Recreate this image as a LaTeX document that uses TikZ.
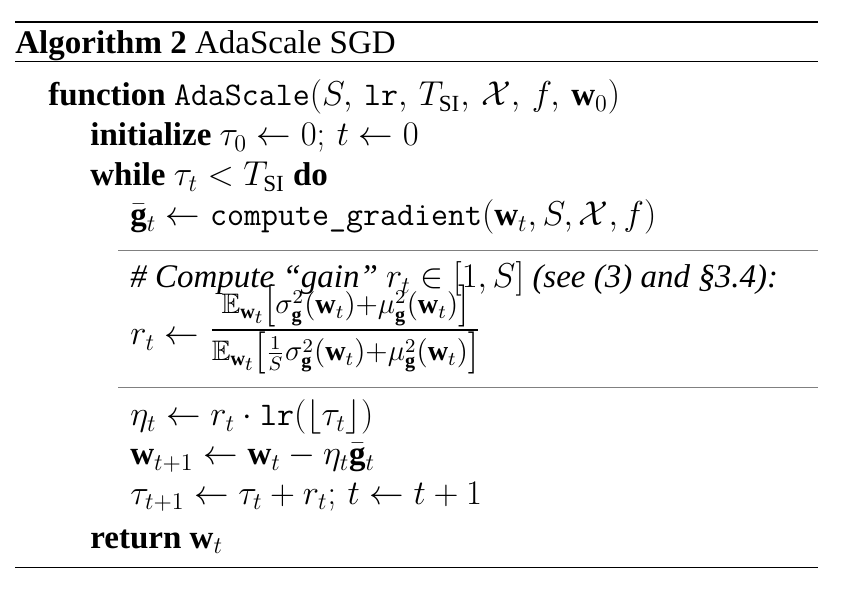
\documentclass[tikz,border=0pt]{standalone}
\usepackage{amsmath,amssymb,graphicx}
\usepackage{fontspec}
\setmainfont{Liberation Serif}
\begin{document}
\begin{tikzpicture}[x=0.5pt,y=-0.5pt,
  txt/.style={anchor=base west,inner sep=0pt,font=\fontsize{16.5}{20}\selectfont}]
\useasboundingbox (0,0) rectangle (850,592);
\draw[line width=0.8pt] (15,22) -- (818,22);
\draw[line width=0.5pt] (15,62) -- (818,62);
\draw[line width=0.5pt] (15,567) -- (818,567);
\draw[line width=0.3pt,gray] (118,250) -- (818,250);
\draw[line width=0.3pt,gray] (118,387) -- (818,387);
\node[txt] (h) at (15,54) {\textbf{Algorithm 2} AdaScale SGD};
\node[txt] (l1) at (48,106) {\textbf{function} \texttt{AdaScale}$(S,\,\texttt{lr},\,T_{\mathrm{SI}},\,\mathcal{X},\,f,\,\mathbf{w}_0)$};
\node[txt] (l2) at (90,146) {\textbf{initialize} $\tau_0\leftarrow 0;\,t\leftarrow 0$};
\node[txt] (l3) at (90,186) {\textbf{while} $\tau_t<T_{\mathrm{SI}}$ \textbf{do}};
\node[txt] (l4) at (130,226) {$\bar{\mathbf{g}}_t\leftarrow \texttt{compute\_gradient}(\mathbf{w}_t,S,\mathcal{X},f)$};
\node[txt] (l5) at (130,288) {\textit{\# Compute ``gain'' $r_t\in[1,S]$ (see (3) and §3.4):}};
\node[txt] (l6) at (130,345) {$r_t\leftarrow\raisebox{0.3ex}{\scalebox{1.22}{$\frac{\mathbb{E}_{\mathbf{w}_t}\left[\sigma^2_{\mathbf{g}}(\mathbf{w}_t)+\mu^2_{\mathbf{g}}(\mathbf{w}_t)\right]}{\mathbb{E}_{\mathbf{w}_t}\left[\frac{1}{S}\sigma^2_{\mathbf{g}}(\mathbf{w}_t)+\mu^2_{\mathbf{g}}(\mathbf{w}_t)\right]}$}}$};
\node[txt] (l7) at (130,426) {$\eta_t\leftarrow r_t\cdot\texttt{lr}(\lfloor\tau_t\rfloor)$};
\node[txt] (l8) at (130,465) {$\mathbf{w}_{t+1}\leftarrow\mathbf{w}_t-\eta_t\bar{\mathbf{g}}_t$};
\node[txt] (l9) at (130,504) {$\tau_{t+1}\leftarrow\tau_t+r_t;\,t\leftarrow t+1$};
\node[txt] (l10) at (90,548) {\textbf{return} $\mathbf{w}_t$};
\end{tikzpicture}
\end{document}
